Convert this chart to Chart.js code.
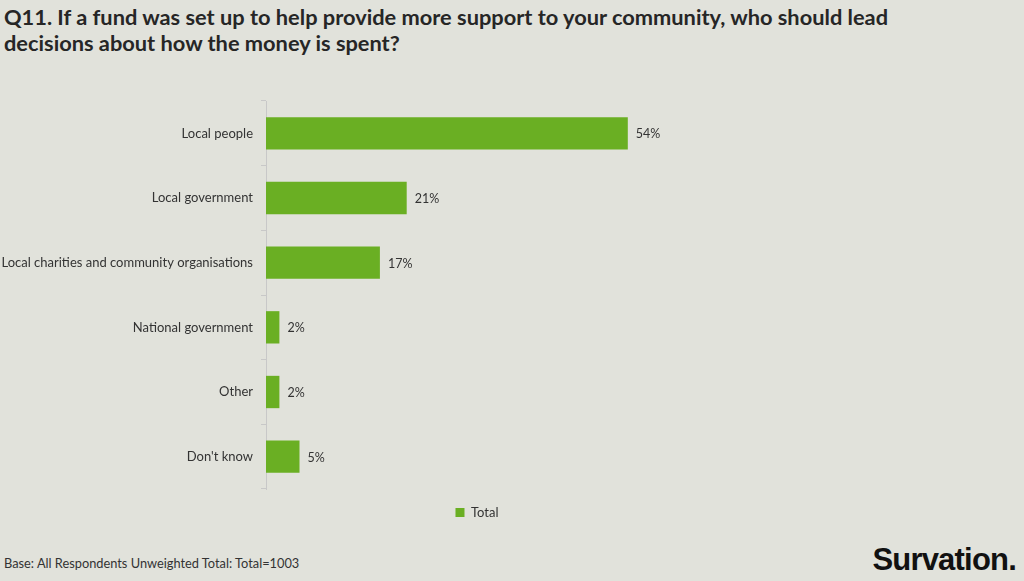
<!DOCTYPE html>
<html>
<head>
<meta charset="utf-8">
<script src="https://cdn.jsdelivr.net/npm/chart.js@4.4.0/dist/chart.umd.min.js"></script>
<style>
  body { margin: 0; background: #e1e2db; width: 1024px; height: 581px; overflow: hidden; position: relative; font-family: Lato, sans-serif; }
  #title { position: absolute; left: 4px; top: 4px; font-size: 21.8px; font-weight: bold; line-height: 26px; color: #262626; }
  #base { position: absolute; left: 4px; top: 555px; font-size: 12.8px; color: #333; }
  #logo { position: absolute; right: 8px; top: 542px; font-family: "Liberation Sans", Arial, sans-serif; font-size: 31px; font-weight: bold; letter-spacing: -0.8px; color: #111; }
  #wrap { position: absolute; left: 0; top: 0; width: 954px; height: 529px; }
</style>
</head>
<body>
<div id="title">Q11. If a fund was set up to help provide more support to your community, who should lead<br>decisions about how the money is spent?</div>
<div id="wrap"><canvas id="chart"></canvas></div>
<div id="base">Base: All Respondents Unweighted Total: Total=1003</div>
<div id="logo">Survation.</div>
<script>
const categories = ['Local people', 'Local government', 'Local charities and community organisations', 'National government', 'Other', "Don't know"];
const totals = [54, 21, 17, 2, 2, 5];

const valueLabels = {
    id: 'valueLabels',
    afterDatasetsDraw(chart) {
        const ctx = chart.ctx;
        ctx.save();
        ctx.font = '12.5px Lato, sans-serif';
        ctx.fillStyle = '#333';
        ctx.textBaseline = 'middle';
        chart.getDatasetMeta(0).data.forEach((bar, i) => {
            ctx.fillText(totals[i] + '%', bar.x + 8, bar.y + 1);
        });
        ctx.restore();
    }
};

// nudge the legend a little to the right, like the original
const legendShift = {
    id: 'legendShift',
    afterLayout(chart) {
        chart.legend.left += 9;
        chart.legend.right += 9;
    }
};

const ctx = document.getElementById('chart').getContext('2d');
new Chart(ctx, {
    type: 'bar',
    data: {
        labels: categories,
        datasets: [{
            label: 'Total',
            data: totals,
            backgroundColor: '#6aaf23',
            barPercentage: 0.5,
            categoryPercentage: 1
        }]
    },
    options: {
        indexAxis: 'y',
        responsive: true,
        maintainAspectRatio: false,
        animation: false,
        layout: { padding: { top: 101, right: 18, bottom: 0, left: 0 } },
        scales: {
            x: { display: false, min: 0, max: 100 },
            y: {
                afterFit(scale) { scale.width = 266; },
                grid: { drawOnChartArea: false, tickLength: 5, color: '#c8c8c8' },
                border: { color: '#c8c8c8' },
                ticks: { color: '#333', padding: 8, font: { family: 'Lato', size: 13 } }
            }
        },
        plugins: {
            tooltip: { enabled: false },
            legend: {
                position: 'bottom',
                labels: { boxWidth: 9, boxHeight: 9, padding: 17, color: '#333', font: { family: 'Lato', size: 13 } }
            }
        }
    },
    plugins: [valueLabels, legendShift]
});
</script>
</body>
</html>
